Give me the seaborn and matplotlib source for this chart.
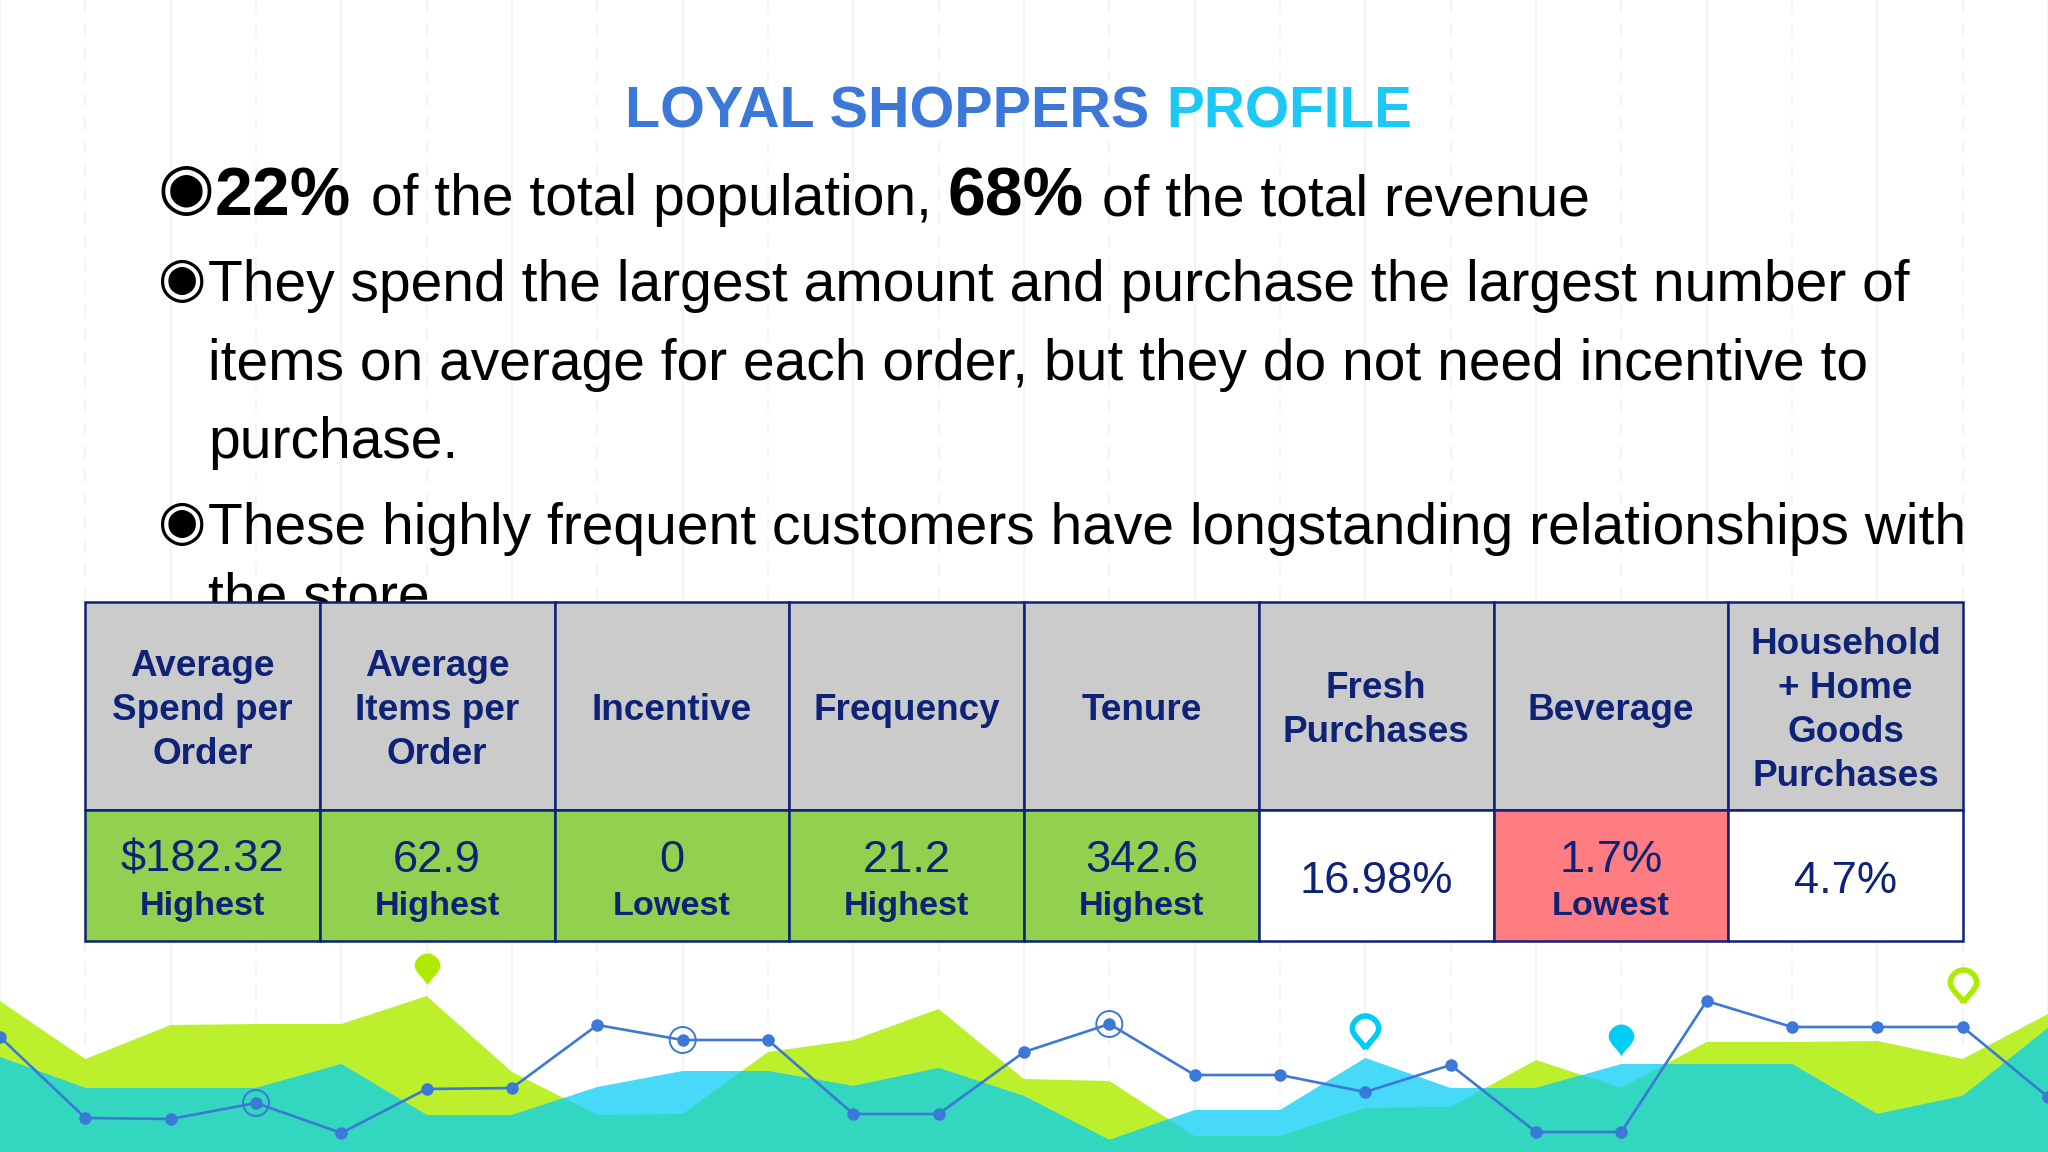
import numpy as np
import pandas as pd
import matplotlib
matplotlib.use("Agg")
import matplotlib.pyplot as plt
import seaborn as sns
from matplotlib.path import Path
from matplotlib.markers import MarkerStyle
from matplotlib.patches import Rectangle, PathPatch

# ---------- data ----------
points = list(range(25))
line_values = [115, 34, 33, 49, 19, 63, 64, 127, 112, 112, 38, 38, 100,
               128, 77, 77, 60, 87, 20, 20, 151, 125, 125, 125, 55]
lime_values = [151, 93, 127, 128, 128, 156, 80, 37, 38, 100, 112, 143, 73,
               71, 16, 16, 44, 45, 92, 64, 110, 110, 111, 93, 138]
cyan_values = [95, 64, 64, 64, 88, 37, 37, 65, 81, 81, 66, 84, 56,
               12, 42, 42, 94, 64, 64, 88, 88, 88, 38, 56, 124]
ring_points = [3, 8, 13]
pin_points = [5, 16, 19, 23]
pin_levels = [183, 120, 112, 166]
pin_colors = ["#AEEB00", "#00CCF5", "#00CCF5", "#AEEB00"]
pin_filled = [True, False, True, False]

headers = ["Average\nSpend per\nOrder", "Average\nItems per\nOrder", "Incentive", "Frequency",
           "Tenure", "Fresh\nPurchases", "Beverage", "Household\n+ Home\nGoods\nPurchases"]
values = ["$182.32", "62.9", "0", "21.2", "342.6", "16.98%", "1.7%", "4.7%"]
notes = ["Highest", "Highest", "Lowest", "Highest", "Highest", "", "Lowest", ""]
value_fill = ["#92D050", "#92D050", "#92D050", "#92D050", "#92D050", "#FFFFFF", "#FF7C80", "#FFFFFF"]

NAVY = "#0E2277"
BLUE = "#3C78D8"
CYAN = "#1CC8F5"
LIME = "#BCF02C"
SKY = "#46D9F8"
TEAL = "#33D6BE"

sns.set_theme(style="white")
plt.rcParams["font.family"] = ["Liberation Sans", "DejaVu Sans"]

fig = plt.figure(figsize=(20.48, 11.52), dpi=100, facecolor="white")
W, H = 2048, 1152

# ---------- page canvas in pixels ----------
page = fig.add_axes([0, 0, 1, 1], zorder=1)
page.set_xlim(0, W)
page.set_ylim(H, 0)
page.axis("off")
for i in points:
    page.vlines(i * W / 24, 0, H, color="#F3F3F3", lw=1.3,
                linestyles=(0, (7, 6)) if i % 2 else "solid", zorder=0)

page.text(625, 127, "LOYAL SHOPPERS", color=BLUE, fontsize=41.4, fontweight="bold")
page.text(1166, 127, "PROFILE", color=CYAN, fontsize=40.9, fontweight="bold")

BODY = 41.0
BULLET = ["DejaVu Sans"]
page.text(157, 208, "\u25C9", fontsize=47, family=BULLET, color="black")
page.text(215, 216, "22%", fontsize=49, fontweight="bold", color="black")
page.text(371, 215, "of the total population,", fontsize=BODY, color="black")
page.text(947, 216, "68%", fontsize=49, fontweight="bold", color="black")
page.text(1102, 215, "of the total revenue", fontsize=BODY, color="black")

body_lines = [
    (301, "They spend the largest amount and purchase the largest number of", True),
    (380, "items on average for each order, but they do not need incentive to", False),
    (458, "purchase.", False),
    (544, "These highly frequent customers have longstanding relationships with", True),
    (613, "the store.", False),
]
for y, txt, bullet in body_lines:
    page.text(208, y, txt, fontsize=BODY, color="black")
    if bullet:
        page.text(158, y - 5, "\u25C9", fontsize=40, family=BULLET, color="black")

# ---------- table ----------
T_L, T_R, T_T, T_M, T_B = 85, 1963, 602, 810, 941
tab = fig.add_axes([0, 0, 1, 1], zorder=2)
tab.set_xlim(0, W)
tab.set_ylim(H, 0)
tab.axis("off")
col_w = (T_R - T_L) / len(headers)
for c, (head, val, note, fill) in enumerate(zip(headers, values, notes, value_fill)):
    x0 = T_L + c * col_w
    xc = x0 + col_w / 2
    tab.add_patch(Rectangle((x0, T_T), col_w, T_M - T_T, fc="#CBCBCB", ec=NAVY, lw=1.8))
    tab.add_patch(Rectangle((x0, T_M), col_w, T_B - T_M, fc=fill, ec=NAVY, lw=1.8))
    parts = head.split("\n")
    for k, part in enumerate(parts):
        tab.text(xc, 707 + (k - (len(parts) - 1) / 2) * 44 + 13, part, ha="center", va="baseline",
                 fontsize=26.6, fontweight="bold", color=NAVY)
    if note:
        tab.text(xc, 872, val, ha="center", va="baseline", fontsize=32.6, color=NAVY)
        tab.text(xc, 915, note, ha="center", va="baseline", fontsize=24.7, fontweight="bold", color=NAVY)
    else:
        tab.text(xc, 893, val, ha="center", va="baseline", fontsize=32.6, color=NAVY)

# ---------- decorative chart at the foot ----------
foot = fig.add_axes([0, 0, 1, 212 / H], zorder=3)
foot.patch.set_alpha(0)
foot.set_xlim(0, 24)
foot.set_ylim(0, 212)
foot.axis("off")
df = pd.DataFrame({"point": points, "line": line_values, "lime": lime_values, "cyan": cyan_values})

lime_poly = foot.fill_between(df["point"], 0, df["lime"], color=LIME, lw=0, zorder=1)
foot.fill_between(df["point"], 0, df["cyan"], color=SKY, lw=0, zorder=2)
overlap = foot.fill_between(df["point"], 0, df["cyan"], color=TEAL, lw=0, zorder=3)
overlap.set_clip_path(PathPatch(lime_poly.get_paths()[0], transform=foot.transData))

sns.lineplot(data=df, x="point", y="line", ax=foot, color=BLUE, lw=1.9, marker="o", markersize=9,
             markeredgewidth=0, errorbar=None, zorder=4, legend=False)
foot.scatter([points[i] for i in ring_points], [line_values[i] for i in ring_points], s=350,
             facecolors="none", edgecolors=BLUE, linewidths=1.4, zorder=5)

verts = [(0, -0.5), (-0.06, -0.32), (-0.40, -0.10), (-0.40, 0.12), (-0.40, 0.32), (-0.20, 0.5), (0, 0.5),
         (0.20, 0.5), (0.40, 0.32), (0.40, 0.12), (0.40, -0.10), (0.06, -0.32), (0, -0.5)]
codes = [Path.MOVETO] + [Path.CURVE4] * 12
pin = MarkerStyle(Path(verts, codes))
for p, lev, col, filled in zip(pin_points, pin_levels, pin_colors, pin_filled):
    if filled:
        foot.scatter([p], [lev], marker=pin, s=(32 * 0.72) ** 2, color=col, linewidths=0, zorder=6)
    else:
        foot.scatter([p], [lev], marker=pin, s=(33 * 0.72) ** 2, facecolors="white", edgecolors=col,
                     linewidths=4, zorder=6)

fig.savefig("out.png", dpi=100)
